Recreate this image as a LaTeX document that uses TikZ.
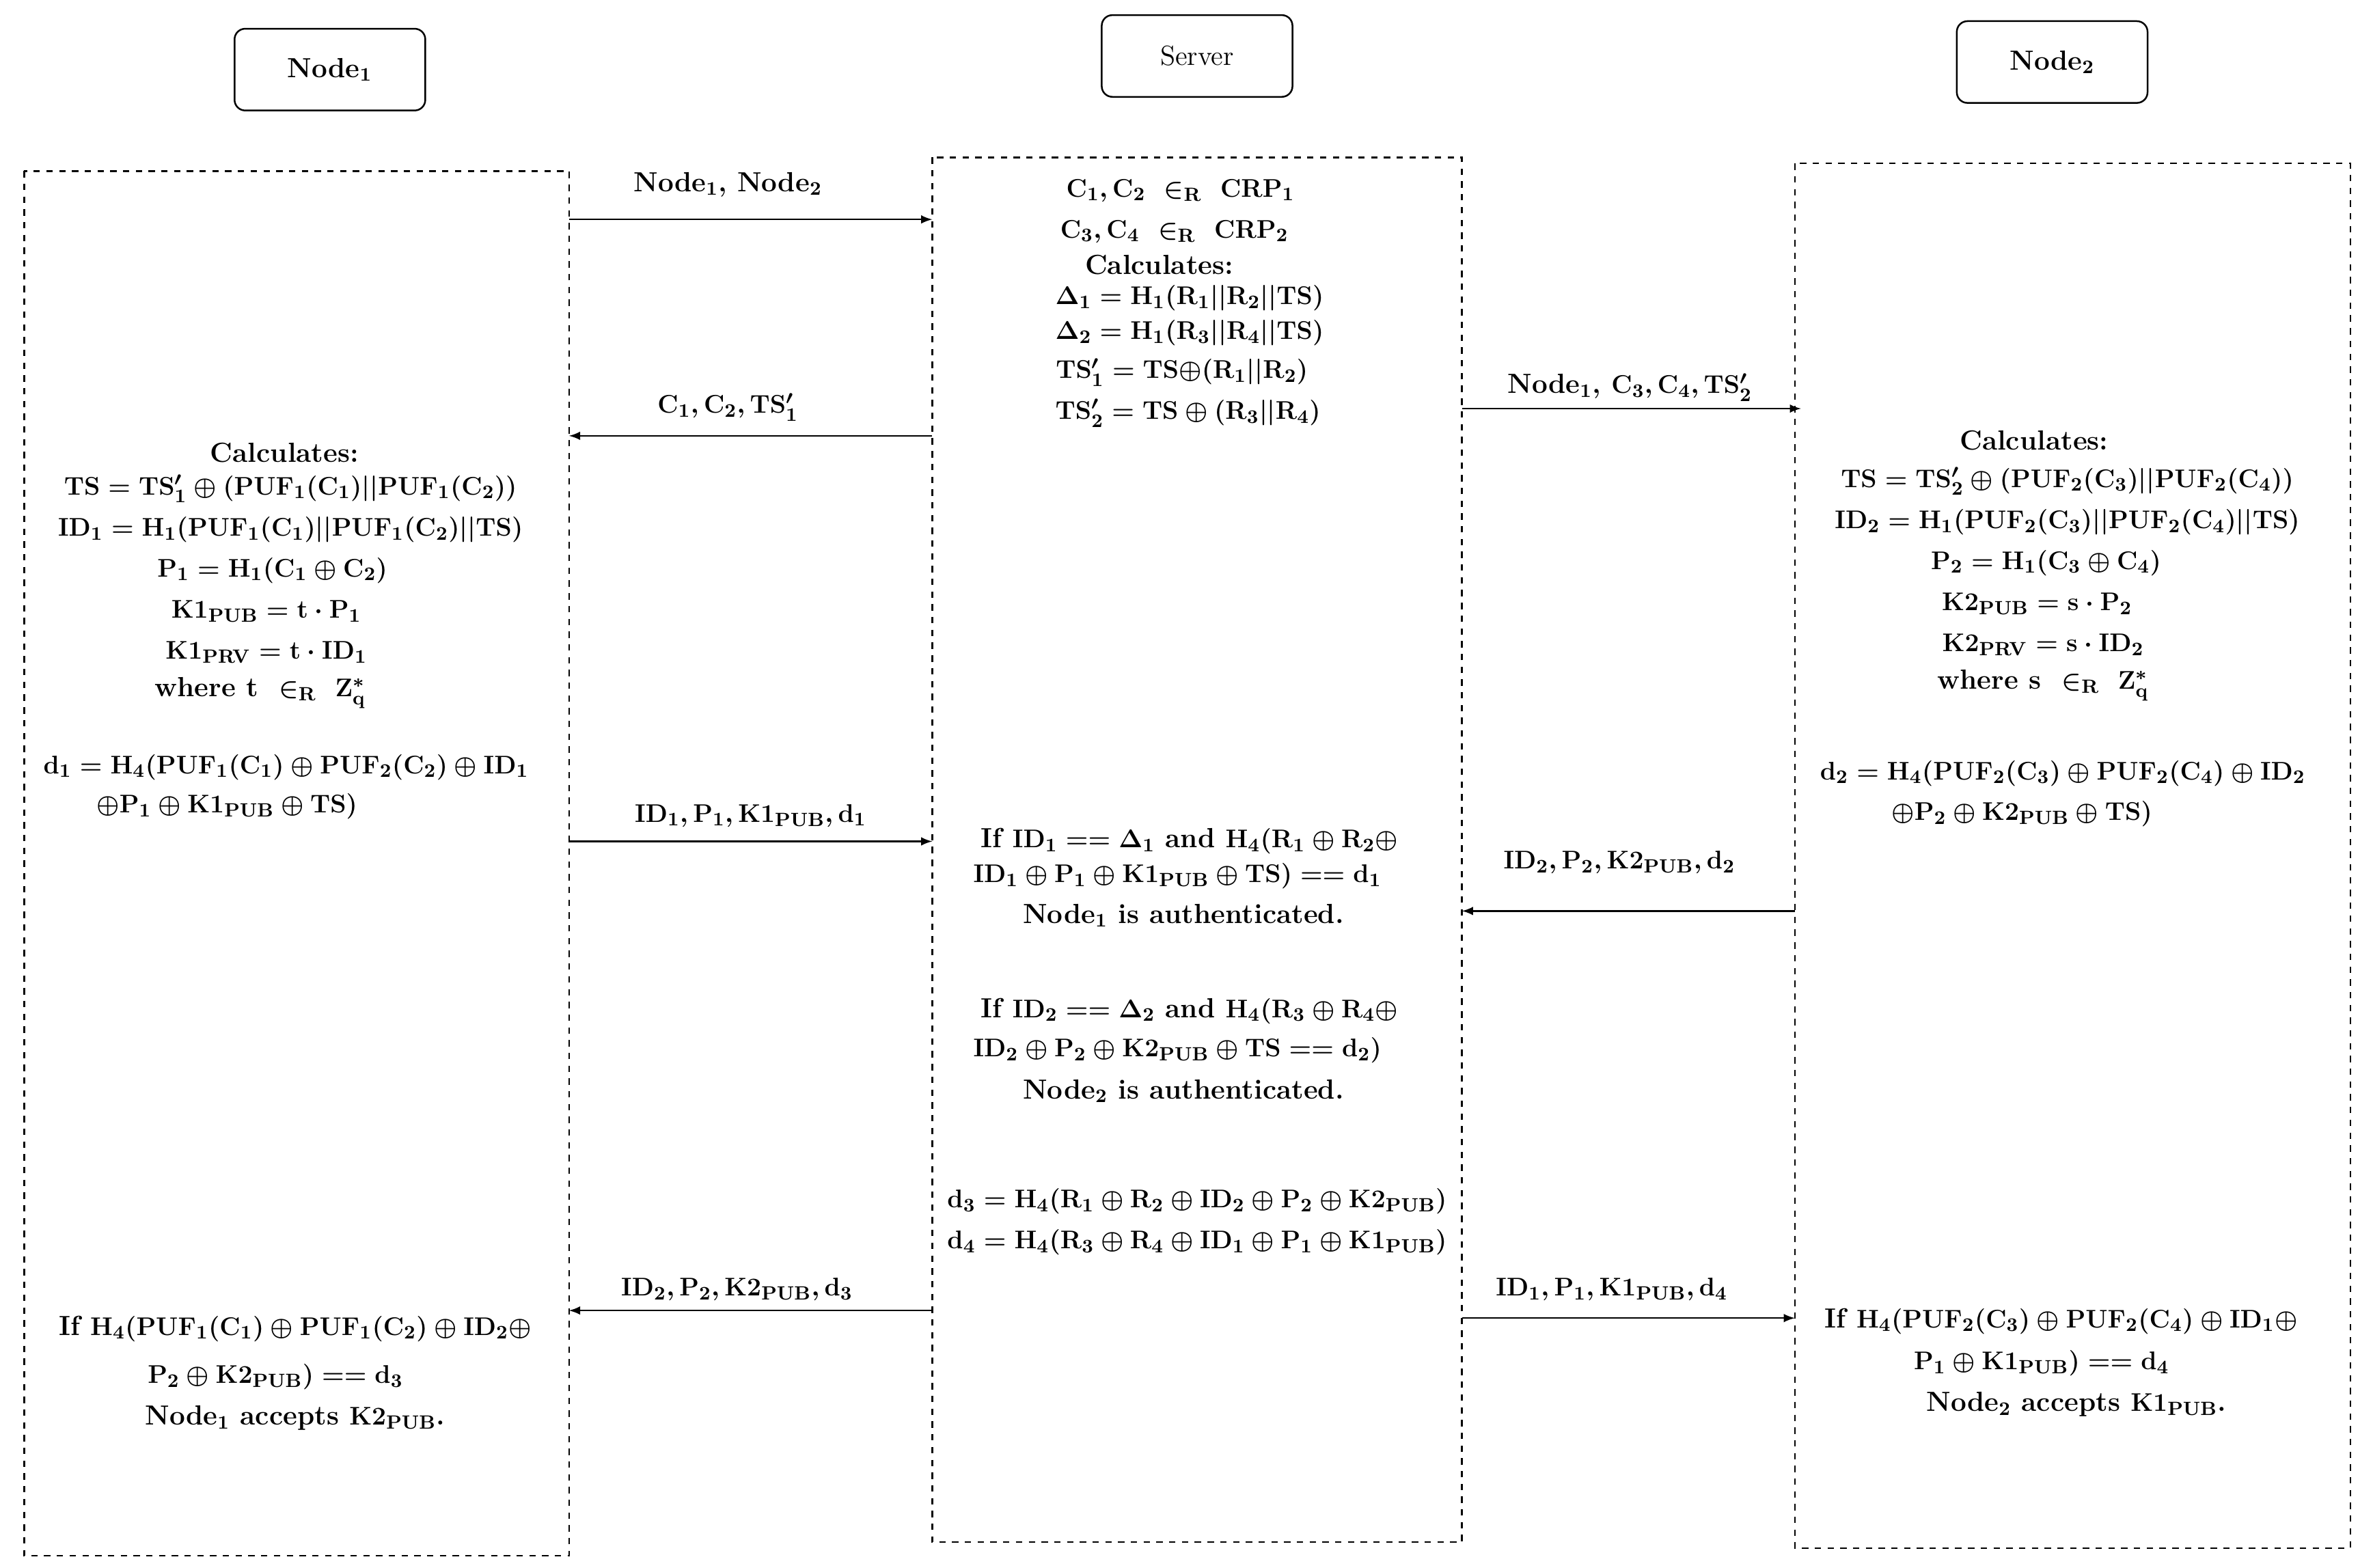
\documentclass[tikz,border=0pt]{standalone}
\usepackage{amsmath,amssymb}
\begin{document}
\begin{tikzpicture}[x=0.025cm,y=-0.025cm,
  every node/.style={font=\fontsize{13}{15}\selectfont\bfseries\boldmath, inner sep=1pt},
  hdr/.style={draw, rounded corners=5pt, minimum width=3.15cm, minimum height=1.35cm, thick},
  lane/.style={draw, dashed, thick},
  msg/.style={-latex, thick}]
\useasboundingbox (0,0) rectangle (1568,1036);

% headers
\node[hdr] (h1) at (218,46) {Node$_1$};
\node[hdr, font=\fontsize{13}{15}\selectfont] (hs) at (791,37) {Server};
\node[hdr] (h2) at (1356,41) {Node$_2$};

% lanes
\draw[lane] (16,113) rectangle (376,1028);
\draw[lane] (616,104) rectangle (966,1019);
\draw[lane] (1186,108) rectangle (1553,1023);

% lane edge coordinates
\coordinate (a1) at (376,145);  \coordinate (b1) at (616,145);
\coordinate (a2) at (616,288);  \coordinate (b2) at (376,288);
\coordinate (a3) at (966,270);  \coordinate (b3) at (1190,270);
\coordinate (a4) at (376,556);  \coordinate (b4) at (616,556);
\coordinate (a5) at (1186,602); \coordinate (b5) at (966,602);
\coordinate (a6) at (616,866);  \coordinate (b6) at (376,866);
\coordinate (a7) at (966,871);  \coordinate (b7) at (1186,871);

\draw[msg] (a1) -- (b1);
\draw[msg] (a2) -- (b2);
\draw[msg] (a3) -- (b3);
\draw[msg] (a4) -- (b4);
\draw[msg] (a5) -- (b5);
\draw[msg] (a6) -- (b6);
\draw[msg] (a7) -- (b7);

% message labels
\node (m1) at (481,122) {Node$_1$, Node$_2$};
\node (m2) at (481,269) {$\mathrm{C_1, C_2, TS_1'}$};
\node (m3) at (1077,256) {Node$_1$, $\mathrm{C_3, C_4, TS_2'}$};
\node (m4) at (496,539) {$\mathrm{ID_1, P_1, K1_{PUB}, d_1}$};
\node (m5) at (1070,570) {$\mathrm{ID_2, P_2, K2_{PUB}, d_2}$};
\node (m6) at (487,852) {$\mathrm{ID_2, P_2, K2_{PUB}, d_3}$};
\node (m7) at (1065,852) {$\mathrm{ID_1, P_1, K1_{PUB}, d_4}$};

% server top
\node (s1) at (780,126) {$\mathrm{C_1, C_2\ \in_R\ CRP_1}$};
\node (s2) at (776,153) {$\mathrm{C_3, C_4\ \in_R\ CRP_2}$};
\node (s3) at (766,175) {Calculates:};
\node (s4) at (786,197) {$\mathrm{\Delta_1 = H_1(R_1||R_2||TS)}$};
\node (s5) at (786,220) {$\mathrm{\Delta_2 = H_1(R_3||R_4||TS)}$};
\node (s6) at (781,246) {$\mathrm{TS_1' = TS{\oplus}(R_1||R_2)}$};
\node (s7) at (785,273) {$\mathrm{TS_2' = TS \oplus (R_3||R_4)}$};

% left block
\node (l1) at (188,299) {Calculates:};
\node (l2) at (192,323) {$\mathrm{TS = TS_1' \oplus (PUF_1(C_1)||PUF_1(C_2))}$};
\node (l3) at (192,350) {$\mathrm{ID_1 = H_1(PUF_1(C_1)||PUF_1(C_2)||TS)}$};
\node (l4) at (180,377) {$\mathrm{P_1 = H_1(C_1 \oplus C_2)}$};
\node (l5) at (176,404) {$\mathrm{K1_{PUB} = t \cdot P_1}$};
\node (l6) at (176,431) {$\mathrm{K1_{PRV} = t \cdot ID_1}$};
\node (l7) at (172,458) {where t $\ \in_{\mathrm R}\ \mathrm{Z_q^*}$};
\node (l8) at (189,507) {$\mathrm{d_1 = H_4(PUF_1(C_1) \oplus PUF_2(C_2) \oplus ID_1}$};
\node (l9) at (150,533) {$\mathrm{\oplus P_1 \oplus K1_{PUB} \oplus TS)}$};

% right block
\node (r1) at (1344,291) {Calculates:};
\node (r2) at (1366,318) {$\mathrm{TS = TS_2' \oplus (PUF_2(C_3)||PUF_2(C_4))}$};
\node (r3) at (1366,345) {$\mathrm{ID_2 = H_1(PUF_2(C_3)||PUF_2(C_4)||TS)}$};
\node (r4) at (1352,372) {$\mathrm{P_2 = H_1(C_3 \oplus C_4)}$};
\node (r5) at (1346,399) {$\mathrm{K2_{PUB} = s \cdot P_2}$};
\node (r6) at (1350,426) {$\mathrm{K2_{PRV} = s \cdot ID_2}$};
\node (r7) at (1350,453) {where s $\ \in_{\mathrm R}\ \mathrm{Z_q^*}$};
\node (r8) at (1363,511) {$\mathrm{d_2 = H_4(PUF_2(C_3) \oplus PUF_2(C_4) \oplus ID_2}$};
\node (r9) at (1336,538) {$\mathrm{\oplus P_2 \oplus K2_{PUB} \oplus TS)}$};

% server middle
\node (v1) at (786,556) {If $\mathrm{ID_1 == \Delta_1}$ and $\mathrm{H_4(R_1 \oplus R_2 {\oplus}}$};
\node (v2) at (778,579) {$\mathrm{ID_1 \oplus P_1 \oplus K1_{PUB} \oplus TS) == d_1}$};
\node (v3) at (782,605) {Node$_1$ is authenticated.};
\node (v4) at (786,668) {If $\mathrm{ID_2 == \Delta_2}$ and $\mathrm{H_4(R_3 \oplus R_4 {\oplus}}$};
\node (v5) at (778,694) {$\mathrm{ID_2 \oplus P_2 \oplus K2_{PUB} \oplus TS == d_2)}$};
\node (v6) at (782,721) {Node$_2$ is authenticated.};
\node (v7) at (791,794) {$\mathrm{d_3 = H_4(R_1 \oplus R_2 \oplus ID_2 \oplus P_2 \oplus K2_{PUB})}$};
\node (v8) at (791,821) {$\mathrm{d_4 = H_4(R_3 \oplus R_4 \oplus ID_1 \oplus P_1 \oplus K1_{PUB})}$};

% left bottom
\node (l10) at (195,878) {If $\mathrm{H_4(PUF_1(C_1) \oplus PUF_1(C_2) \oplus ID_2{\oplus}}$};
\node (l11) at (182,910) {$\mathrm{P_2 \oplus K2_{PUB}) == d_3}$};
\node (l12) at (195,937) {Node$_1$ accepts $\mathrm{K2_{PUB}}$.};

% right bottom
\node (r10) at (1362,873) {If $\mathrm{H_4(PUF_2(C_3) \oplus PUF_2(C_4) \oplus ID_1{\oplus}}$};
\node (r11) at (1349,901) {$\mathrm{P_1 \oplus K1_{PUB}) == d_4}$};
\node (r12) at (1372,928) {Node$_2$ accepts $\mathrm{K1_{PUB}}$.};
\end{tikzpicture}
\end{document}
